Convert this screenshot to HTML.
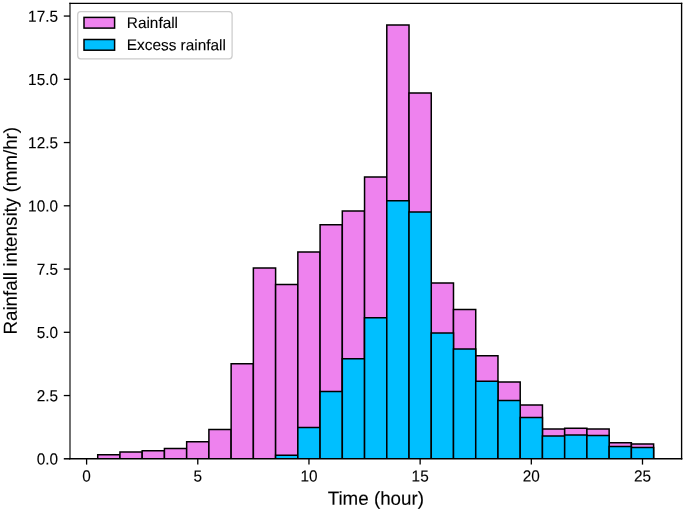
<!DOCTYPE html>
<html lang="en"><head><meta charset="utf-8"><title>Rainfall intensity</title>
<style>
html,body{margin:0;padding:0;background:#fff;}
body{width:685px;height:512px;overflow:hidden;}
svg{display:block;}
text{font-family:"Liberation Sans",Arial,Helvetica,sans-serif;fill:#000;stroke:#000;stroke-width:0.1px;text-rendering:geometricPrecision;}
.t{font-size:15.36px;}
.l{font-size:18.80px;}
</style></head><body>
<svg width="685" height="512" viewBox="0 0 685 512">
<rect width="685" height="512" fill="#fff"/>

<g stroke="#000" stroke-width="1.50" stroke-linejoin="miter">
<path d="M97.72 458.80V454.80H119.95V458.80" fill="#ee82ee"/>
<path d="M119.95 458.80V451.90H142.19V458.80" fill="#ee82ee"/>
<path d="M142.19 458.80V450.80H164.43V458.80" fill="#ee82ee"/>
<path d="M164.43 458.80V448.50H186.66V458.80" fill="#ee82ee"/>
<path d="M186.66 458.80V441.70H208.90V458.80" fill="#ee82ee"/>
<path d="M208.90 458.80V429.40H231.13V458.80" fill="#ee82ee"/>
<path d="M231.13 458.80V363.70H253.37V458.80" fill="#ee82ee"/>
<path d="M253.37 458.80V268.00H275.61V458.80" fill="#ee82ee"/>
<path d="M275.61 458.80V284.40H297.84V458.80" fill="#ee82ee"/>
<path d="M297.84 458.80V252.00H320.08V458.80" fill="#ee82ee"/>
<path d="M320.08 458.80V224.70H342.31V458.80" fill="#ee82ee"/>
<path d="M342.31 458.80V211.10H364.55V458.80" fill="#ee82ee"/>
<path d="M364.55 458.80V177.00H386.79V458.80" fill="#ee82ee"/>
<path d="M386.79 458.80V24.90H409.02V458.80" fill="#ee82ee"/>
<path d="M409.02 458.80V93.00H431.26V458.80" fill="#ee82ee"/>
<path d="M431.26 458.80V282.90H453.49V458.80" fill="#ee82ee"/>
<path d="M453.49 458.80V309.50H475.73V458.80" fill="#ee82ee"/>
<path d="M475.73 458.80V355.70H497.97V458.80" fill="#ee82ee"/>
<path d="M497.97 458.80V382.10H520.20V458.80" fill="#ee82ee"/>
<path d="M520.20 458.80V405.10H542.44V458.80" fill="#ee82ee"/>
<path d="M542.44 458.80V429.00H564.67V458.80" fill="#ee82ee"/>
<path d="M564.67 458.80V428.20H586.91V458.80" fill="#ee82ee"/>
<path d="M586.91 458.80V429.00H609.15V458.80" fill="#ee82ee"/>
<path d="M609.15 458.80V442.80H631.38V458.80" fill="#ee82ee"/>
<path d="M631.38 458.80V443.90H653.62V458.80" fill="#ee82ee"/>
<path d="M275.61 458.80V455.30H297.84V458.80" fill="#00bfff"/>
<path d="M297.84 458.80V427.60H320.08V458.80" fill="#00bfff"/>
<path d="M320.08 458.80V391.60H342.31V458.80" fill="#00bfff"/>
<path d="M342.31 458.80V358.80H364.55V458.80" fill="#00bfff"/>
<path d="M364.55 458.80V317.80H386.79V458.80" fill="#00bfff"/>
<path d="M386.79 458.80V200.70H409.02V458.80" fill="#00bfff"/>
<path d="M409.02 458.80V212.00H431.26V458.80" fill="#00bfff"/>
<path d="M431.26 458.80V332.90H453.49V458.80" fill="#00bfff"/>
<path d="M453.49 458.80V348.90H475.73V458.80" fill="#00bfff"/>
<path d="M475.73 458.80V381.30H497.97V458.80" fill="#00bfff"/>
<path d="M497.97 458.80V400.40H520.20V458.80" fill="#00bfff"/>
<path d="M520.20 458.80V417.50H542.44V458.80" fill="#00bfff"/>
<path d="M542.44 458.80V435.90H564.67V458.80" fill="#00bfff"/>
<path d="M564.67 458.80V435.00H586.91V458.80" fill="#00bfff"/>
<path d="M586.91 458.80V435.50H609.15V458.80" fill="#00bfff"/>
<path d="M609.15 458.80V446.50H631.38V458.80" fill="#00bfff"/>
<path d="M631.38 458.80V447.40H653.62V458.80" fill="#00bfff"/>
</g>
<g stroke="#000" stroke-linecap="square">
<line x1="70.00" y1="3.30" x2="70.00" y2="458.80" stroke-width="1.12"/>
<line x1="681.60" y1="3.30" x2="681.60" y2="458.80" stroke-width="1.35"/>
<line x1="70.00" y1="3.30" x2="681.60" y2="3.30" stroke-width="1.35"/>
<line x1="70.00" y1="458.80" x2="681.60" y2="458.80" stroke-width="1.5"/>
</g>
<g stroke="#000" stroke-width="1.30">
<line x1="86.60" y1="458.80" x2="86.60" y2="464.60"/>
<line x1="197.78" y1="458.80" x2="197.78" y2="464.60"/>
<line x1="308.96" y1="458.80" x2="308.96" y2="464.60"/>
<line x1="420.14" y1="458.80" x2="420.14" y2="464.60"/>
<line x1="531.32" y1="458.80" x2="531.32" y2="464.60"/>
<line x1="642.50" y1="458.80" x2="642.50" y2="464.60"/>
<line x1="70.00" y1="458.80" x2="63.80" y2="458.80" stroke-width="1.5"/>
<line x1="70.00" y1="395.55" x2="63.80" y2="395.55"/>
<line x1="70.00" y1="332.30" x2="63.80" y2="332.30"/>
<line x1="70.00" y1="269.05" x2="63.80" y2="269.05"/>
<line x1="70.00" y1="205.80" x2="63.80" y2="205.80"/>
<line x1="70.00" y1="142.55" x2="63.80" y2="142.55"/>
<line x1="70.00" y1="79.30" x2="63.80" y2="79.30"/>
<line x1="70.00" y1="16.05" x2="63.80" y2="16.05"/>
</g>
<text class="t" transform="translate(86.60,481.60) rotate(0.05) scale(1,1.04)" text-anchor="middle">0</text>
<text class="t" transform="translate(197.78,481.60) rotate(0.05) scale(1,1.04)" text-anchor="middle">5</text>
<text class="t" transform="translate(308.96,481.60) rotate(0.05) scale(1,1.04)" text-anchor="middle">10</text>
<text class="t" transform="translate(420.14,481.60) rotate(0.05) scale(1,1.04)" text-anchor="middle">15</text>
<text class="t" transform="translate(531.32,481.60) rotate(0.05) scale(1,1.04)" text-anchor="middle">20</text>
<text class="t" transform="translate(642.50,481.60) rotate(0.05) scale(1,1.04)" text-anchor="middle">25</text>
<text class="t" transform="translate(58.00,464.45) rotate(0.05) scale(1,1.04)" text-anchor="end">0.0</text>
<text class="t" transform="translate(58.00,401.20) rotate(0.05) scale(1,1.04)" text-anchor="end">2.5</text>
<text class="t" transform="translate(58.00,337.95) rotate(0.05) scale(1,1.04)" text-anchor="end">5.0</text>
<text class="t" transform="translate(58.00,274.70) rotate(0.05) scale(1,1.04)" text-anchor="end">7.5</text>
<text class="t" transform="translate(58.00,211.45) rotate(0.05) scale(1,1.04)" text-anchor="end">10.0</text>
<text class="t" transform="translate(58.00,148.20) rotate(0.05) scale(1,1.04)" text-anchor="end">12.5</text>
<text class="t" transform="translate(58.00,84.95) rotate(0.05) scale(1,1.04)" text-anchor="end">15.0</text>
<text class="t" transform="translate(58.00,21.70) rotate(0.05) scale(1,1.04)" text-anchor="end">17.5</text>
<text class="l" transform="translate(375.80,504.70) rotate(0.05)" text-anchor="middle">Time (hour)</text>
<text class="l" transform="translate(16.80,230.75) rotate(-89.95)" text-anchor="middle">Rainfall intensity (mm/hr)</text>
<rect x="77.7" y="11.5" width="154.4" height="47.3" rx="3" ry="3" fill="#fff" fill-opacity="0.8" stroke="#ccc" stroke-width="1.25"/>
<rect x="84.0" y="17.4" width="30.6" height="10.7" fill="#ee82ee" stroke="#000" stroke-width="1.50"/>
<rect x="84.0" y="39.5" width="30.6" height="10.7" fill="#00bfff" stroke="#000" stroke-width="1.50"/>
<text class="t" transform="translate(126.8,28.05) rotate(0.05)">Rainfall</text>
<text class="t" transform="translate(126.8,50.1) rotate(0.05)">Excess rainfall</text>
</svg></body></html>
